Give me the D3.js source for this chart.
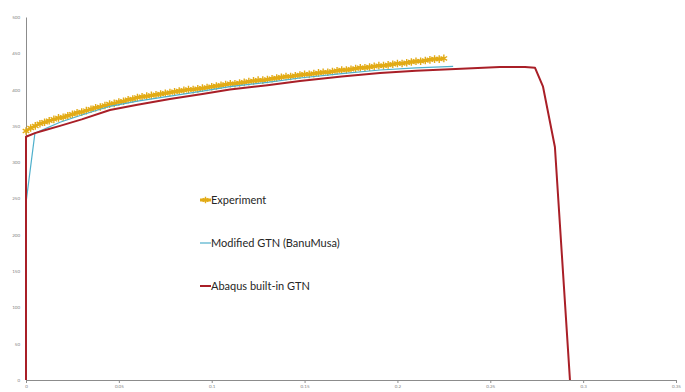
<!DOCTYPE html>
<html>
<head>
<meta charset="utf-8">
<script src="https://cdn.jsdelivr.net/npm/d3@7"></script>
<style>
    body { margin: 0; background: #ffffff; }
    svg { display: block; }
    .tick text { fill: #7f7f7f; }
    .legend text { font-family: Lato, "Open Sans", sans-serif; font-size: 11px; fill: #262626; }
</style>
</head>
<body>
<div class="chart"></div>
<script>
// experiment: strain / stress (MPa)
var expStrain = [0, 0.0025, 0.005, 0.0075, 0.01, 0.0125, 0.015, 0.0175, 0.02, 0.0225,
    0.025, 0.0275, 0.03, 0.0325, 0.035, 0.0375, 0.04, 0.0425, 0.045, 0.0475,
    0.05, 0.0525, 0.055, 0.0575, 0.06, 0.0625, 0.065, 0.0675, 0.07, 0.0725,
    0.075, 0.0775, 0.08, 0.0825, 0.085, 0.0875, 0.09, 0.0925, 0.095, 0.0975,
    0.1, 0.1025, 0.105, 0.1075, 0.11, 0.1125, 0.115, 0.1175, 0.12, 0.1225,
    0.125, 0.1275, 0.13, 0.1325, 0.135, 0.1375, 0.14, 0.1425, 0.145, 0.1475,
    0.15, 0.1525, 0.155, 0.1575, 0.16, 0.1625, 0.165, 0.1675, 0.17, 0.1725,
    0.175, 0.1775, 0.18, 0.1825, 0.185, 0.1875, 0.19, 0.1925, 0.195, 0.1975,
    0.2, 0.2025, 0.205, 0.2075, 0.21, 0.2125, 0.215, 0.2175, 0.22, 0.2225, 0.225];
var expStress = [343, 347, 350, 353, 355, 357, 359, 361, 362, 364,
    366, 368, 369, 371, 373, 375, 376, 378, 380, 381,
    383, 384, 386, 387, 389, 390, 391, 392, 393, 394,
    395, 396, 397, 398, 399, 400, 400, 401, 402, 403,
    404, 405, 406, 407, 408, 408, 409, 410, 411, 412,
    413, 413, 414, 415, 416, 417, 418, 418, 419, 420,
    421, 421, 422, 423, 424, 424, 425, 426, 427, 427,
    428, 429, 430, 430, 431, 432, 433, 433, 434, 435,
    436, 436, 437, 438, 439, 439, 440, 441, 442, 442, 443];

// modified GTN (BanuMusa)
var modStrain = [0, 0.0048, 0.0183, 0.03, 0.0452, 0.06, 0.0775, 0.095, 0.1098, 0.13, 0.1475, 0.17, 0.1906, 0.21, 0.23];
var modStress = [244, 340, 355, 365, 377, 384, 391, 398, 404, 410, 416, 422, 427, 430, 432];

// abaqus built-in GTN
var abqStrain = [0, 0, 0.0048, 0.01, 0.0183, 0.03, 0.0452, 0.06, 0.0775, 0.095, 0.1098, 0.13, 0.1475, 0.17, 0.1906,
    0.21, 0.2283, 0.2552, 0.2687, 0.2741, 0.2784, 0.2848, 0.2929];
var abqStress = [0, 335, 340, 344, 350, 359, 372, 379, 387, 394, 400, 406, 412, 418, 423,
    426, 428, 431, 431, 430, 404, 321, 0];

var xTicks = [0, 0.05, 0.1, 0.15, 0.2, 0.25, 0.3, 0.35];
var xTickLabels = ["0", "0.05", "0.1", "0.15", "0.2", "0.25", "0.3", "0.35"];
var yTicks = [0, 50, 100, 150, 200, 250, 300, 350, 400, 450, 500];

var seriesNames = ["Experiment", "Modified GTN (BanuMusa)", "Abaqus built-in GTN"];
var seriesColors = ["#e2ab16", "#4fb0cc", "#a91f27"];

var width = 685, height = 392;
var svg = d3.select("div.chart").append("svg")
    .attr("width", width)
    .attr("height", height);

var x = d3.scaleLinear().domain([0, 0.35]).range([26, 676]);
var y = d3.scaleLinear().domain([0, 500]).range([380, 17]);

function toPoints(xs, ys) {
    return xs.map(function(d, i) { return [d, ys[i]]; });
}

function drawAxes() {
    let xAxis = svg.append("g")
        .attr("class", "x-axis")
        .attr("transform", `translate(0,${y(0)})`)
        .call(d3.axisBottom(x)
            .tickValues(xTicks)
            .tickSize(3)
            .tickPadding(2)
            .tickFormat(function(d, i) { return xTickLabels[i]; }));
    let yAxis = svg.append("g")
        .attr("class", "y-axis")
        .attr("transform", `translate(${x(0)},0)`)
        .call(d3.axisLeft(y)
            .tickValues(yTicks)
            .tickSize(0)
            .tickPadding(6));
    [xAxis, yAxis].forEach(function(a) {
        a.select(".domain").attr("stroke", "#8c8c8c").attr("stroke-width", 1);
        a.selectAll(".tick line").attr("stroke", "#8c8c8c");
        a.selectAll(".tick text")
            .attr("font-family", "Lato, sans-serif")
            .attr("font-size", "4.5px");
    });
}

function drawSeries() {
    let line = d3.line()
        .x(function(d) { return x(d[0]); })
        .y(function(d) { return y(d[1]); });

    let expData = toPoints(expStrain, expStress);
    svg.append("path")
        .datum(expData)
        .attr("fill", "none")
        .attr("stroke", seriesColors[0])
        .attr("stroke-width", 3)
        .attr("d", line);
    // star markers, packed so tight they make a band
    svg.append("g").selectAll("path")
        .data(expData)
        .enter().append("path")
        .attr("transform", function(d) { return `translate(${x(d[0])},${y(d[1])})`; })
        .attr("d", d3.symbol().type(d3.symbolAsterisk).size(40))
        .attr("fill", "none")
        .attr("stroke", seriesColors[0])
        .attr("stroke-width", 1.4);

    svg.append("path")
        .datum(toPoints(modStrain, modStress))
        .attr("fill", "none")
        .attr("stroke", seriesColors[1])
        .attr("stroke-width", 1.2)
        .attr("d", line);

    svg.append("path")
        .datum(toPoints(abqStrain, abqStress))
        .attr("fill", "none")
        .attr("stroke", seriesColors[2])
        .attr("stroke-width", 2)
        .attr("stroke-linejoin", "round")
        .attr("d", line);
}

function drawLegend() {
    let legend = svg.append("g")
        .attr("class", "legend")
        .attr("transform", "translate(200,200)");
    let items = legend.selectAll("g")
        .data(seriesNames)
        .enter().append("g")
        .attr("transform", function(d, i) { return `translate(0,${i * 43})`; });
    items.append("line")
        .attr("x1", 0).attr("x2", 11)
        .attr("y1", 0).attr("y2", 0)
        .attr("stroke", function(d, i) { return seriesColors[i]; })
        .attr("stroke-width", function(d, i) { return [3, 1.2, 2][i]; });
    items.filter(function(d, i) { return i === 0; })
        .append("path")
        .attr("transform", "translate(5.5,0)")
        .attr("d", d3.symbol().type(d3.symbolAsterisk).size(30))
        .attr("fill", "none")
        .attr("stroke", seriesColors[0])
        .attr("stroke-width", 1.4);
    items.append("text")
        .attr("x", 11)
        .attr("dy", "0.35em")
        .text(function(d) { return d; });
}

drawAxes();
drawSeries();
drawLegend();
</script>
</body>
</html>
